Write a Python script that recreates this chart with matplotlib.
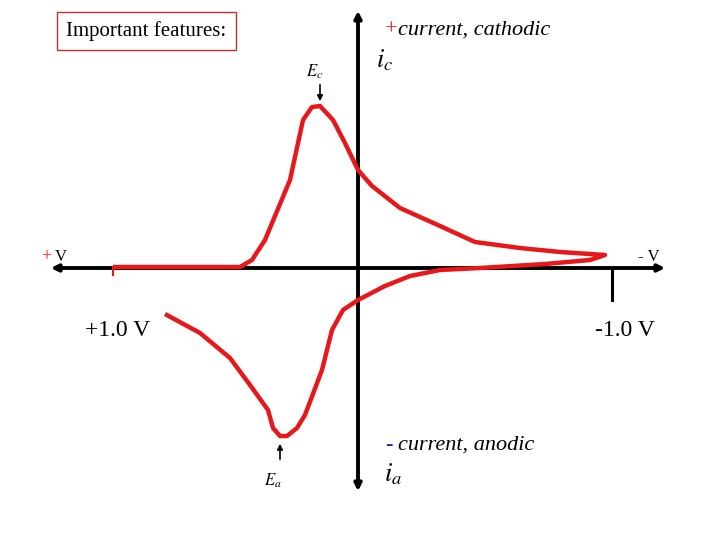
import matplotlib
matplotlib.use("Agg")
import matplotlib.pyplot as plt

# Curve traced in figure-pixel units (x: potential axis, y: current axis, y down)
cath_x = [113, 240, 252, 265, 290, 303, 312, 320, 333, 345, 358, 372, 400, 440, 475, 520, 560, 605]
cath_y = [267, 267, 260, 240, 180, 120, 107, 106, 120, 143, 170, 186, 208, 226, 242, 248, 252, 255]
anod_x = [605, 590, 545, 480, 440, 410, 385, 358, 343, 332, 322, 305, 297, 287, 280, 273, 268, 250, 230, 200, 165]
anod_y = [255, 260, 264, 268, 270, 276, 286, 300, 310, 330, 370, 415, 428, 436, 436, 428, 410, 385, 358, 333, 314]

plt.rcParams['font.family'] = ['Liberation Serif', 'DejaVu Serif']
plt.rcParams['mathtext.fontset'] = 'stix'
fig = plt.figure(figsize=(7.2, 5.4), dpi=100)
ax = fig.add_axes([0, 0, 1, 1])
ax.set_xlim(0, 720)
ax.set_ylim(540, 0)
ax.axis('off')

red = '#e8171a'
ax.plot(cath_x + anod_x, cath_y + anod_y, color=red, lw=3.2, solid_joinstyle='round',
        solid_capstyle='butt', zorder=3)
ax.plot([113, 113], [267, 275], color=red, lw=1.5, zorder=3)

# axes
ax.annotate('', xy=(48, 268), xytext=(668, 268),
            arrowprops=dict(arrowstyle='<|-|>', lw=2.8, color='black', mutation_scale=10), zorder=2)
ax.annotate('', xy=(358, 8), xytext=(358, 494),
            arrowprops=dict(arrowstyle='<|-|>', lw=2.8, color='black', mutation_scale=10), zorder=2)
ax.plot([612, 612], [268, 300], color='black', lw=2.2)

# Box
ax.text(146, 31, 'Important features:', fontsize=15, ha='center', va='center',
        bbox=dict(boxstyle='square,pad=0.45', fc='white', ec='#c0302e', lw=1))

ax.text(385, 30, '+', fontsize=16, color=red, ha='left', va='center')
ax.text(398, 30, 'current, cathodic', fontsize=16, style='italic', ha='left', va='center')
ax.text(376, 60, r'$\boldsymbol{i_c}$', fontsize=19, ha='left', va='center')
ax.text(315, 72, r'$E_c$', fontsize=12, ha='center', va='center')
ax.annotate('', xy=(320, 104), xytext=(320, 82),
            arrowprops=dict(arrowstyle='-|>', lw=1.2, color='black', mutation_scale=8))

ax.text(41, 257, '+', fontsize=13, color=red, ha='left', va='center')
ax.text(55, 257, 'V', fontsize=12, ha='left', va='center')
ax.text(638, 257, '- V', fontsize=12, ha='left', va='center')

ax.text(118, 330, '+1.0 V', fontsize=17, ha='center', va='center')
ax.text(625, 330, '-1.0 V', fontsize=17, ha='center', va='center')

ax.annotate('', xy=(280, 441), xytext=(280, 462),
            arrowprops=dict(arrowstyle='-|>', lw=1.2, color='black', mutation_scale=8))
ax.text(273, 481, r'$E_a$', fontsize=12, ha='center', va='center')
ax.text(385, 445, '-', fontsize=16, color='#1a1aa0', ha='left', va='center')
ax.text(398, 445, 'current, anodic', fontsize=16, style='italic', ha='left', va='center')
ax.text(384, 474, r'$\boldsymbol{i_a}$', fontsize=19, ha='left', va='center')

fig.savefig('out.png', dpi=100)
